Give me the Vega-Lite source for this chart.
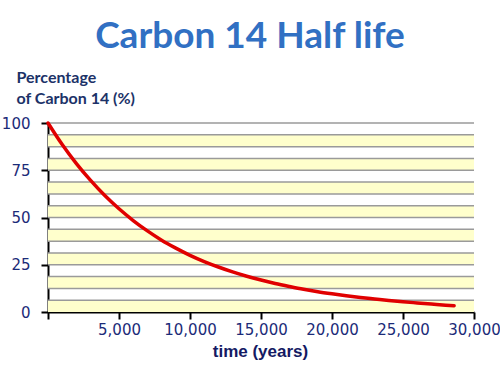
{
  "$schema": "https://vega.github.io/schema/vega-lite/v6.json",
  "width": 426,
  "height": 189,
  "autosize": {"type": "none"},
  "padding": {"left": 48, "top": 123, "right": 26, "bottom": 63},
  "background": "white",
  "title": {
    "text": "Carbon 14 Half life",
    "font": "Lato",
    "fontWeight": "bold",
    "fontSize": 37,
    "color": "#3170c3",
    "anchor": "middle",
    "frame": "group",
    "dx": -11,
    "dy": 36,
    "baseline": "alphabetic",
    "offset": 20
  },
  "datasets": {
    "bands": [
      {"lo": 0, "hi": 6.25},
      {"lo": 12.5, "hi": 18.75},
      {"lo": 25, "hi": 31.25},
      {"lo": 37.5, "hi": 43.75},
      {"lo": 50, "hi": 56.25},
      {"lo": 62.5, "hi": 68.75},
      {"lo": 75, "hi": 81.25},
      {"lo": 87.5, "hi": 93.75}
    ],
    "grid": [
      {"g": 6.25}, {"g": 12.5}, {"g": 18.75}, {"g": 25}, {"g": 31.25}, {"g": 37.5},
      {"g": 43.75}, {"g": 50}, {"g": 56.25}, {"g": 62.5}, {"g": 68.75}, {"g": 75},
      {"g": 81.25}, {"g": 87.5}, {"g": 93.75}, {"g": 100}
    ],
    "decay": [
      {"t": 0, "p": 100},
      {"t": 1000, "p": 88.6},
      {"t": 2000, "p": 78.5},
      {"t": 3000, "p": 69.6},
      {"t": 4000, "p": 61.6},
      {"t": 5000, "p": 54.6},
      {"t": 6000, "p": 48.4},
      {"t": 7000, "p": 42.9},
      {"t": 8000, "p": 38.0},
      {"t": 9000, "p": 33.8},
      {"t": 10000, "p": 30.0},
      {"t": 11000, "p": 26.7},
      {"t": 12000, "p": 23.8},
      {"t": 13000, "p": 21.2},
      {"t": 14000, "p": 18.9},
      {"t": 15000, "p": 16.9},
      {"t": 16000, "p": 15.1},
      {"t": 17000, "p": 13.5},
      {"t": 18000, "p": 12.0},
      {"t": 19000, "p": 10.7},
      {"t": 20000, "p": 9.6},
      {"t": 21000, "p": 8.6},
      {"t": 22000, "p": 7.7},
      {"t": 23000, "p": 6.9},
      {"t": 24000, "p": 6.1},
      {"t": 25000, "p": 5.4},
      {"t": 26000, "p": 4.8},
      {"t": 27000, "p": 4.2},
      {"t": 28000, "p": 3.6},
      {"t": 28600, "p": 3.3}
    ]
  },
  "layer": [
    {
      "data": {"name": "bands"},
      "mark": {"type": "rect", "color": "#ffffcc"},
      "encoding": {
        "x": {"datum": 0, "type": "quantitative"},
        "x2": {"datum": 30000},
        "y": {"field": "lo", "type": "quantitative"},
        "y2": {"field": "hi"}
      }
    },
    {
      "data": {"name": "grid"},
      "mark": {"type": "rule", "color": "#9a9a9a", "strokeWidth": 1.5},
      "encoding": {
        "x": {"datum": 0, "type": "quantitative"},
        "x2": {"datum": 30000},
        "y": {"field": "g", "type": "quantitative"}
      }
    },
    {
      "data": {"name": "decay"},
      "mark": {"type": "line", "color": "#e00000", "strokeWidth": 3.5, "interpolate": "monotone", "strokeCap": "round"},
      "encoding": {
        "x": {
          "field": "t",
          "type": "quantitative",
          "scale": {"domain": [0, 30000], "nice": false},
          "axis": {
            "values": [0, 5000, 10000, 15000, 20000, 25000, 30000],
            "labelExpr": "datum.value == 0 ? '' : format(datum.value, ',')",
            "title": "time (years)",
            "titleFont": "Liberation Sans",
            "titleFontWeight": "bold",
            "titleFontSize": 17,
            "titleColor": "#141a63",
            "titlePadding": 6,
            "titleX": 212,
            "labelFont": "DejaVu Sans",
            "labelFontSize": 15,
            "labelColor": "#1b2b78",
            "labelPadding": 3,
            "labelOverlap": false,
            "labelBound": false,
            "labelFlush": false,
            "grid": false,
            "domainColor": "black",
            "domainWidth": 2,
            "tickColor": "black",
            "tickWidth": 2,
            "tickSize": 7
          }
        },
        "y": {
          "field": "p",
          "type": "quantitative",
          "scale": {"domain": [0, 100], "nice": false},
          "axis": {
            "values": [0, 12.5, 25, 37.5, 50, 62.5, 75, 87.5, 100],
            "labelExpr": "datum.value % 25 == 0 ? format(datum.value, 'd') : ''",
            "title": ["Percentage", "of Carbon 14 (%)"],
            "titleAngle": 0,
            "titleAlign": "left",
            "titleBaseline": "alphabetic",
            "titleX": -32,
            "titleY": -41,
            "titleLineHeight": 21,
            "titleFont": "Lato",
            "titleFontWeight": "bold",
            "titleFontSize": 16,
            "titleColor": "#1c3268",
            "labelFont": "DejaVu Sans",
            "labelFontSize": 15,
            "labelColor": "#1b2b78",
            "labelPadding": 11,
            "labelOverlap": false,
            "labelBound": false,
            "grid": false,
            "domainColor": "black",
            "domainWidth": 2,
            "tickColor": "black",
            "tickWidth": 2,
            "tickSize": 7
          }
        }
      }
    }
  ],
  "config": {"view": {"stroke": null}}
}
